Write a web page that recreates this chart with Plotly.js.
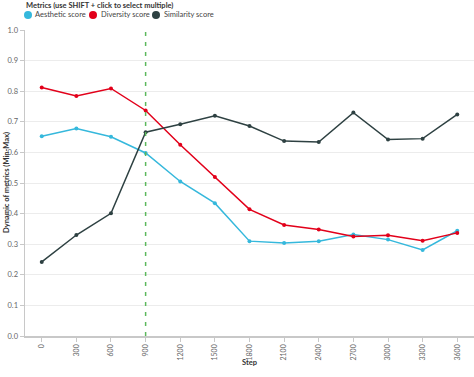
<!DOCTYPE html>
<html><head><meta charset="utf-8">
<script src="https://cdn.plot.ly/plotly-3.0.1.min.js"></script>
<style>html,body{margin:0;padding:0;background:#fff}#c{width:474px;height:377px}</style>
</head><body><div id="c"></div>
<script>
const steps = [0,300,600,900,1200,1500,1800,2100,2400,2700,3000,3300,3600];
const aesthetic = [0.653,0.678,0.651,0.598,0.505,0.434,0.310,0.304,0.310,0.332,0.315,0.281,0.344];
const diversity = [0.812,0.784,0.809,0.737,0.625,0.520,0.414,0.363,0.348,0.325,0.329,0.311,0.337];
const similarity = [0.242,0.330,0.401,0.666,0.692,0.720,0.686,0.637,0.634,0.730,0.642,0.645,0.724];
const names = ['Aesthetic score','Diversity score','Similarity score'];
const colors = ['#35b8dc','#e2001a','#2e4142'];
const series = [aesthetic, diversity, similarity];
const markerStep = 900;
const yTicks = [0,0.1,0.2,0.3,0.4,0.5,0.6,0.7,0.8,0.9,1.0];

const FONT = 'Lato, "Source Sans Pro", sans-serif';
const traces = series.map((v,i)=>({
  x: steps, y: v, name: names[i], type:'scatter', mode:'lines+markers',
  line:{color:colors[i], width:1.5}, marker:{color:colors[i], size:4}, showlegend:false
}));

// legend layout (pixel positions converted to paper fractions)
const plotL = 25, plotW = 449, plotB = 336, plotH = 306;
const px = x => (x - plotL) / plotW;
const py = y => (plotB - y) / plotH;
const legCircleX = [28, 93, 156];
const legTextX = [34, 99.5, 162.5];
const legY = 15;

const legendShapes = names.map((n,i)=>({
  type:'circle', xref:'paper', yref:'paper', xsizemode:'pixel', ysizemode:'pixel',
  xanchor:px(legCircleX[i]), yanchor:py(legY), x0:-4, x1:4, y0:-4, y1:4,
  fillcolor:colors[i], line:{width:0}
}));
const legendAnn = names.map((n,i)=>({
  xref:'paper', yref:'paper', x:px(legTextX[i]), y:py(legY), xanchor:'left', yanchor:'middle',
  showarrow:false, borderpad:0, text:n, font:{family:FONT, size:7.5, color:'#444'}
}));

const layout = {
  width:474, height:377,
  margin:{l:25, r:0, t:30, b:41},
  paper_bgcolor:'#fff', plot_bgcolor:'#fff',
  font:{family:FONT, size:7, color:'#666'},
  xaxis:{
    range:[-145,3745], tickvals:steps, ticktext:steps.map(String), tickangle:-90,
    showgrid:false, zeroline:false, showline:true, linecolor:'#c8c8c8', linewidth:1.5,
    ticks:'outside', ticklen:4, tickcolor:'#c8c8c8',
    tickfont:{family:FONT, size:7, color:'#666'}
  },
  yaxis:{
    range:[0,1.0], tickvals:yTicks, ticktext:yTicks.map(v=>v.toFixed(1)),
    showgrid:true, gridcolor:'#ececec', gridwidth:1, zeroline:false,
    showline:true, linecolor:'#c8c8c8', linewidth:1.5,
    ticks:'outside', ticklen:4, tickcolor:'#c8c8c8',
    tickfont:{family:FONT, size:7.5, color:'#666'}
  },
  shapes:[{type:'line', xref:'x', yref:'paper', x0:markerStep, x1:markerStep, y0:0, y1:1,
    line:{color:'#5cb85c', width:1.5, dash:'4px,6px'}}].concat(legendShapes),
  annotations:[
    {xref:'paper', yref:'paper', x:0, y:py(0), xanchor:'left', yanchor:'top', showarrow:false, borderpad:0,
     text:'<b>Metrics (use SHIFT + click to select multiple)</b>', font:{family:FONT, size:7.5, color:'#333'}},
    {xref:'paper', yref:'paper', x:px(6), y:0.5, xanchor:'center', yanchor:'middle', showarrow:false, textangle:-90,
     text:'<b>Dynamic of metrics (Min-Max)</b>', font:{family:FONT, size:7.5, color:'#333'}},
    {xref:'paper', yref:'paper', x:0.5, y:py(362), xanchor:'center', yanchor:'middle', showarrow:false,
     text:'<b>Step</b>', font:{family:FONT, size:7.5, color:'#333'}}
  ].concat(legendAnn)
};
Plotly.newPlot('c', traces, layout, {displayModeBar:false, staticPlot:true});
</script></body></html>
